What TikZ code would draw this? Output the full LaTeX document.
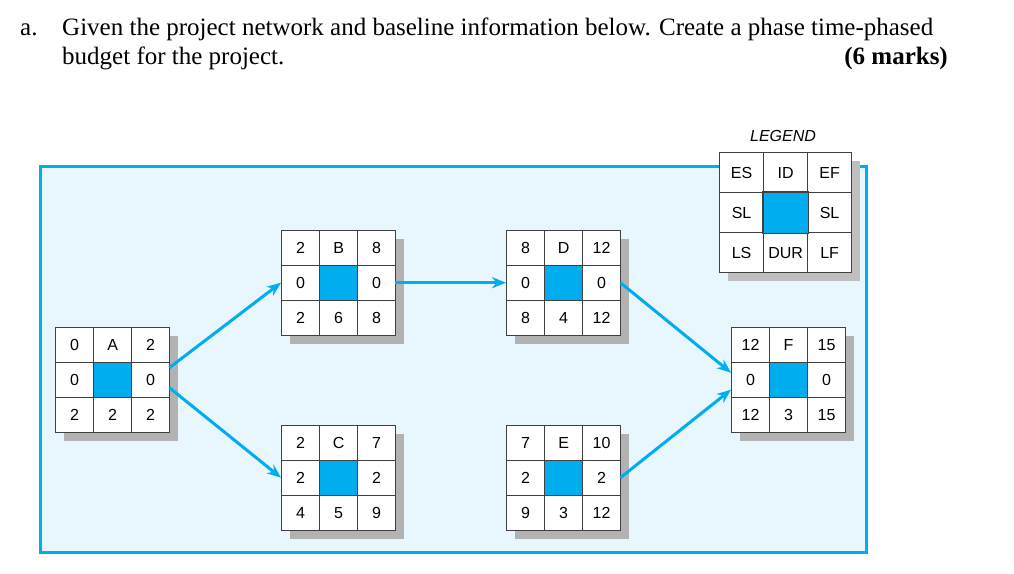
\documentclass[tikz,border=0pt]{standalone}
\usepackage{fontspec}
\setmainfont{Liberation Serif}
\newfontfamily\boxfont{Liberation Sans}
\usetikzlibrary{arrows.meta}
\definecolor{cy}{HTML}{00AEEF}
\definecolor{bg}{HTML}{E8F6FD}
\tikzset{
 cell/.style={draw=black!75,fill=white,minimum width=38,minimum height=35,inner sep=0,font=\boxfont\fontsize{16}{16}\selectfont,line width=1.2},
 arr/.style={draw=cy,line width=3,-{Stealth[length=14,width=11]}},
 shadow/.style={fill=black!30}
}
% #1 name, #2..#9 values: tl tc tr ml mr bl bc br
\newcommand\actbox[9]{%
 \fill[shadow] ([shift={(9,9)}]#1.north west) rectangle ([shift={(9,9)}]#1.south east);
 \node[cell,anchor=north west] at ([shift={(0,0)}]#1.north west) {#2};
 \node[cell,anchor=north west] at ([shift={(38,0)}]#1.north west) {#3};
 \node[cell,anchor=north west] at ([shift={(76,0)}]#1.north west) {#4};
 \node[cell,anchor=north west] at ([shift={(0,35)}]#1.north west) {#5};
 \node[cell,anchor=north west,fill=cy] at ([shift={(38,35)}]#1.north west) {};
 \node[cell,anchor=north west] at ([shift={(76,35)}]#1.north west) {#6};
 \node[cell,anchor=north west] at ([shift={(0,70)}]#1.north west) {#7};
 \node[cell,anchor=north west] at ([shift={(38,70)}]#1.north west) {#8};
 \node[cell,anchor=north west] at ([shift={(76,70)}]#1.north west) {#9};
}
\begin{document}
\begin{tikzpicture}[x=1pt,y=-1pt]
\useasboundingbox (0,0) rectangle (1014,573);
\tikzset{hd/.style={anchor=base west,inner sep=0,font=\fontsize{25}{25}\selectfont}}
\node[hd] (lbl) at (20,35) {a.};
\node[hd] (l1) at (62,35) {Given the project network and baseline information below. Create a phase time-phased};
\node[hd] (l2) at (62,64) {budget for the project.};
\node[hd,anchor=base east,font=\bfseries\fontsize{25}{25}\selectfont] (mk) at (948,64) {(6 marks)};
\draw[cy,fill=bg,line width=3] (40,166) rectangle (866,552);
\tikzset{bx/.style={minimum width=114,minimum height=105,inner sep=0,anchor=north west}}
\node[bx] (A) at (55,327) {};
\node[bx] (B) at (281,230) {};
\node[bx] (C) at (281,425) {};
\node[bx] (D) at (506,230) {};
\node[bx] (E) at (506,425) {};
\node[bx] (F) at (731,327) {};
\actbox{A}{0}{A}{2}{0}{0}{2}{2}{2}
\actbox{B}{2}{B}{8}{0}{0}{2}{6}{8}
\actbox{C}{2}{C}{7}{2}{2}{4}{5}{9}
\actbox{D}{8}{D}{12}{0}{0}{8}{4}{12}
\actbox{E}{7}{E}{10}{2}{2}{9}{3}{12}
\actbox{F}{12}{F}{15}{0}{0}{12}{3}{15}
\draw[arr] ([yshift=12]A.east) -- (B.west);
\draw[arr] ([yshift=-8]A.east) -- (C.west);
\draw[arr] (B.east) -- (D.west);
\draw[arr] (D.east) -- ([yshift=7]F.west);
\draw[arr] (E.east) -- ([yshift=-10]F.west);
% legend
\tikzset{lcell/.style={cell,minimum width=44,minimum height=40}}
\fill[black!25] (728,161) rectangle (860,281);
\foreach \t [count=\i from 0] in {ES,ID,EF,SL,,SL,LS,DUR,LF}{
 \pgfmathtruncatemacro\c{mod(\i,3)}
 \pgfmathtruncatemacro\r{div(\i,3)}
 \node[lcell,anchor=north west] (L\i) at (719+44*\c,152+40*\r) {\t};
}
\fill[cy] (L4.north west) rectangle (L4.south east);
\draw[black!75,line width=1.2] (L4.north west) rectangle (L4.south east);
\node[font=\boxfont\itshape\fontsize{16}{16}\selectfont] (lt) at (783,136) {LEGEND};
\end{tikzpicture}
\end{document}
